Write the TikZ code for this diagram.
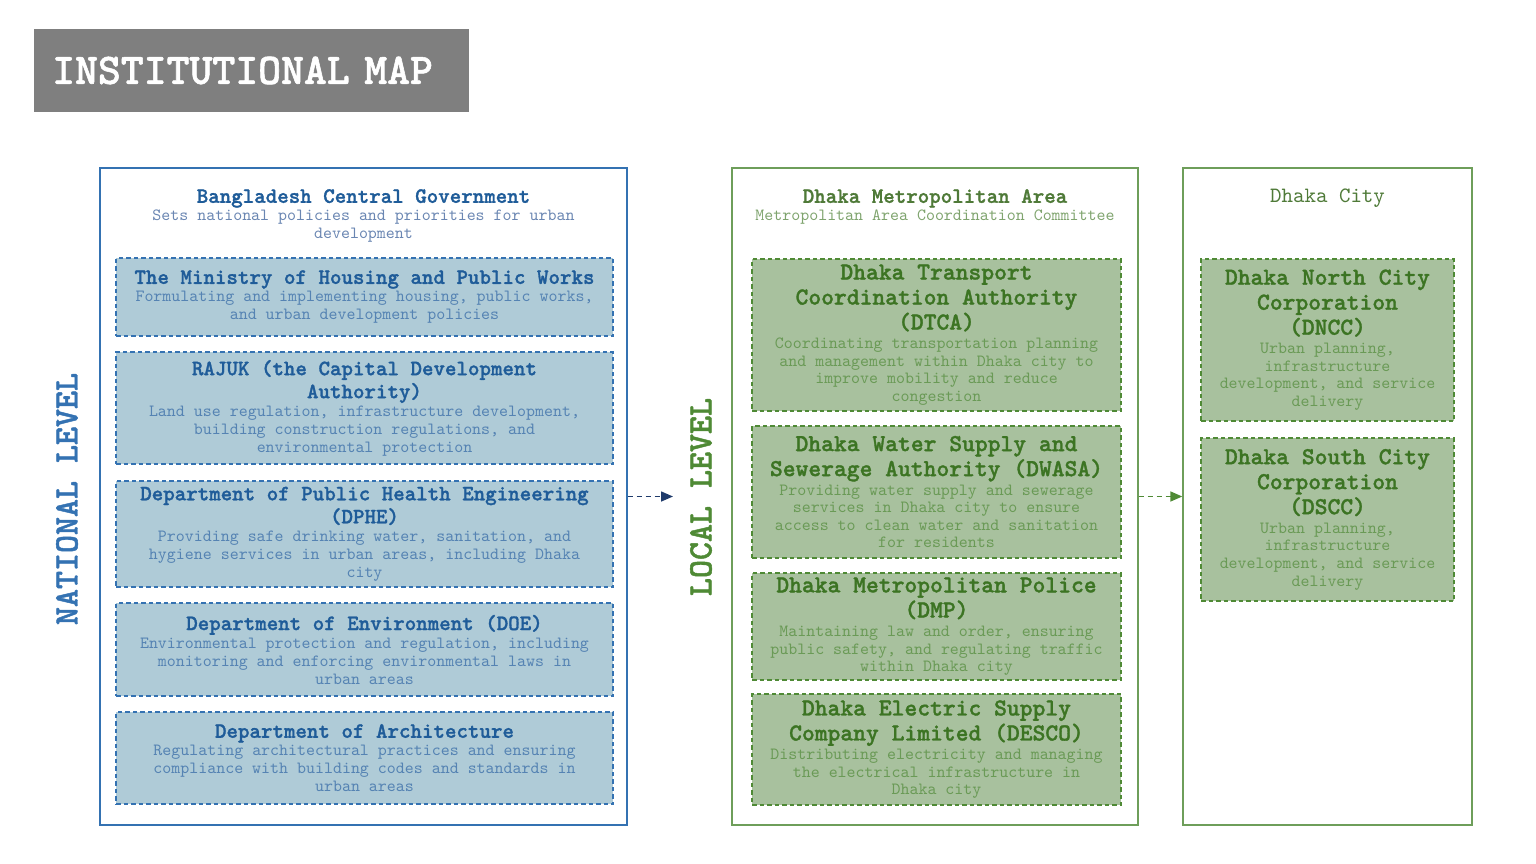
\documentclass[tikz,border=0pt]{standalone}
\usepackage{fontspec}
\setmainfont{lmmono10-regular.otf}[BoldFont=lmmonolt10-bold.otf,BoldFeatures={FakeBold=1.3}]
\usetikzlibrary{positioning,arrows.meta}

\definecolor{titlegray}{HTML}{7F7F7F}
\definecolor{natline}{HTML}{3472B2}
\definecolor{natfill}{HTML}{AFCBD7}
\definecolor{nattitle}{HTML}{1F5C99}
\definecolor{natdesc}{HTML}{5583B3}
\definecolor{natsub}{HTML}{6A86B2}
\definecolor{natarrow}{HTML}{1F3B6B}
\definecolor{locline}{HTML}{6E9E5A}
\definecolor{locdash}{HTML}{4F8A35}
\definecolor{locfill}{HTML}{A8C19E}
\definecolor{loctitle}{HTML}{3C7423}
\definecolor{locdesc}{HTML}{6A9A56}
\definecolor{locsub}{HTML}{7FA46E}
\definecolor{lochead}{HTML}{4F7A38}

\newcommand{\ttsize}[2]{\fontsize{#1}{#2}\selectfont\spaceskip=\dimexpr\fontdimen2\font+0.02pt\relax\xspaceskip=\spaceskip}
\newcommand{\natentry}[2]{{\ttsize{21.9}{23}\bfseries\color{nattitle}#1\par}{\ttsize{17.1}{18}\color{natdesc}#2\par}}
\newcommand{\locentry}[2]{{\ttsize{24.4}{25}\bfseries\color{loctitle}#1\par}\vspace{1.5pt}{\ttsize{17.1}{17.6}\color{locdesc}#2\par}}

\begin{document}
\begin{tikzpicture}[x=1pt,y=-1pt,
  panel/.style={draw,line width=1.4pt,minimum height=657pt,inner sep=0pt},
  natorg/.style={draw=natline,fill=natfill,line width=1.4pt,dash pattern=on 4.5pt off 3pt,
    minimum width=497pt,text width=489pt,inner sep=4pt,align=center},
  locorg/.style={draw=locdash,fill=locfill,line width=1.4pt,dash pattern=on 4.5pt off 3pt,
    inner sep=4pt,align=center},
  head/.style={anchor=north,inner sep=0pt,align=center},
  level/.style={rotate=90,font=\fontsize{34.3}{36}\selectfont\bfseries}
]
  \useasboundingbox (0,0) rectangle (1536,864);

  \node[fill=titlegray,anchor=west,minimum height=83pt,inner xsep=18pt,text width=399pt,align=left,
    text=white,font=\fontsize{43.6}{45}\selectfont\bfseries] (title) at (34,70.5) {INSTITUTIONAL MAP};

  \node[panel,draw=natline,minimum width=527pt] (natbox) at (363.5,496.5) {};
  \node[panel,draw=locline,minimum width=406pt] (metbox) at (935,496.5) {};
  \node[panel,draw=locline,minimum width=289pt] (citybox) at (1327.5,496.5) {};

  \node[level,text=natline] (natlabel) at (67,499) {NATIONAL LEVEL};
  \node[level,text=locdash] (loclabel) at (701,497) {LOCAL LEVEL};

  \node[head,text width=500pt] (nathead) at (363.5,189) {{\ttsize{21.9}{19}\bfseries\color{nattitle}Bangladesh Central Government\par}{\ttsize{17.1}{18}\color{natsub}Sets national policies and priorities for urban\\development\par}};
  \node[head,text width=390pt] (methead) at (935,189) {{\ttsize{21.9}{19}\bfseries\color{lochead}Dhaka Metropolitan Area\par}{\ttsize{17.1}{18}\color{locsub}Metropolitan Area Coordination Committee\par}};
  \node[head,text width=270pt] (cityhead) at (1327.5,189) {{\ttsize{21.9}{19}\color{lochead}Dhaka City\par}};

  \node[natorg,minimum height=78pt] (mhpw) at (364.5,297) {\natentry{The Ministry of Housing and Public Works}{Formulating and implementing housing, public works,\\and urban development policies}};
  \node[natorg,minimum height=112pt] (rajuk) at (364.5,408) {\natentry{RAJUK (the Capital Development\\Authority)}{Land use regulation, infrastructure development,\\building construction regulations, and\\environmental protection}};
  \node[natorg,minimum height=106pt] (dphe) at (364.5,534) {\natentry{Department of Public Health Engineering\\(DPHE)}{Providing safe drinking water, sanitation, and\\hygiene services in urban areas, including Dhaka\\city}};
  \node[natorg,minimum height=93pt] (doe) at (364.5,649.5) {\natentry{Department of Environment (DOE)}{Environmental protection and regulation, including\\monitoring and enforcing environmental laws in\\urban areas}};
  \node[natorg,minimum height=92pt] (arch) at (364.5,758) {\natentry{Department of Architecture}{Regulating architectural practices and ensuring\\compliance with building codes and standards in\\urban areas}};

  \node[locorg,minimum width=369pt,text width=361pt,minimum height=152pt] (dtca) at (936.5,335) {\locentry{Dhaka Transport\\Coordination Authority\\(DTCA)}{Coordinating transportation planning\\and management within Dhaka city to\\improve mobility and reduce\\congestion}};
  \node[locorg,minimum width=369pt,text width=361pt,minimum height=132pt] (dwasa) at (936.5,492) {\locentry{Dhaka Water Supply and\\Sewerage Authority (DWASA)}{Providing water supply and sewerage\\services in Dhaka city to ensure\\access to clean water and sanitation\\for residents}};
  \node[locorg,minimum width=369pt,text width=361pt,minimum height=107pt] (dmp) at (936.5,626.5) {\locentry{Dhaka Metropolitan Police\\(DMP)}{Maintaining law and order, ensuring\\public safety, and regulating traffic\\within Dhaka city}};
  \node[locorg,minimum width=369pt,text width=361pt,minimum height=111pt] (desco) at (936.5,749.5) {\locentry{Dhaka Electric Supply\\Company Limited (DESCO)}{Distributing electricity and managing\\the electrical infrastructure in\\Dhaka city}};

  \node[locorg,minimum width=253pt,text width=245pt,minimum height=162pt] (dncc) at (1327.5,340) {\locentry{Dhaka North City\\Corporation\\(DNCC)}{Urban planning,\\infrastructure\\development, and service\\delivery}};
  \node[locorg,minimum width=253pt,text width=245pt,minimum height=163pt] (dscc) at (1327.5,519.5) {\locentry{Dhaka South City\\Corporation\\(DSCC)}{Urban planning,\\infrastructure\\development, and service\\delivery}};

  \coordinate (natend) at (673,496.5);
  \draw[natarrow,line width=1.5pt,dash pattern=on 5pt off 4pt,-{Triangle[length=12pt,width=10pt]}] (natbox.east) -- (natend);
  \draw[locdash,line width=1.5pt,dash pattern=on 5pt off 4pt,-{Triangle[length=12pt,width=10pt]}] (metbox.east) -- (citybox.west);
\end{tikzpicture}
\end{document}
